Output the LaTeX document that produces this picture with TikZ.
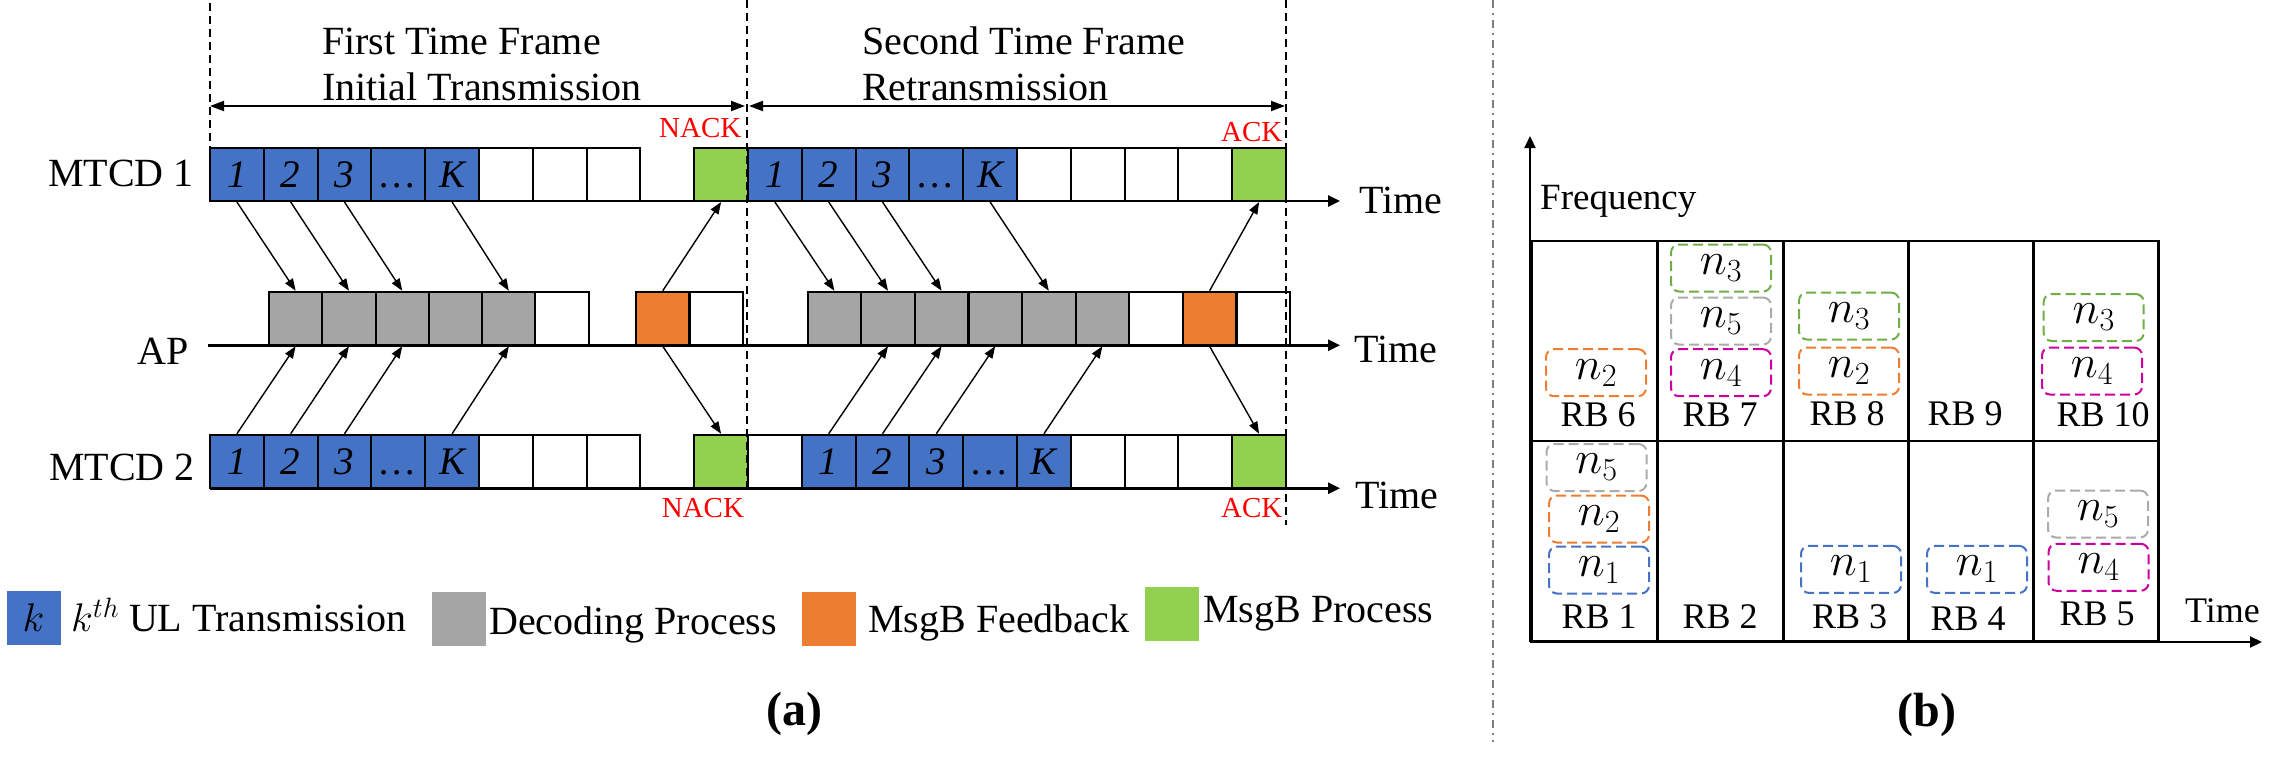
\RequirePackage{fix-cm}
\documentclass[tikz,border=0pt]{standalone}
\usepackage{fontspec}
\setmainfont{Liberation Serif}
\usetikzlibrary{arrows.meta}
\definecolor{cblue}{HTML}{4472C4}
\definecolor{cgray}{HTML}{A5A5A5}
\definecolor{corange}{HTML}{ED7D31}
\definecolor{cgreen}{HTML}{92D050}
\definecolor{dgreen}{HTML}{70AD47}
\definecolor{dgray}{HTML}{ABABAB}
\definecolor{dmag}{RGB}{204,0,160}
\newcommand\fsz[1]{\fontsize{#1}{#1}\selectfont}
\begin{document}
\begin{tikzpicture}[x=1pt,y=-1pt,
  cell/.style={draw, line width=2pt, minimum width=53.8pt, minimum height=53.5pt, inner sep=0pt, font=\fsz{39}\itshape, text height=26pt, text depth=0pt},
  arr/.style={-{Triangle[length=12pt,width=9pt]}, line width=1.4pt},
  axisarr/.style={-{Triangle[length=12pt,width=11pt]}, line width=2.5pt},
  framearr/.style={{Triangle[length=14pt,width=10pt]}-{Triangle[length=14pt,width=10pt]}, line width=2pt},
  vdash/.style={line width=1.5pt, dash pattern=on 8pt off 5pt},
  lbl/.style={font=\fsz{40}, inner sep=0pt},
  ack/.style={font=\fsz{29}, text=red, inner sep=0pt},
  rb/.style={draw, line width=2.5pt, minimum width=125.3pt, minimum height=200pt, inner sep=0pt},
  rbl/.style={font=\fsz{36}, inner sep=0pt},
  nbox/.style={draw, line width=2pt, rounded corners=8pt, dash pattern=on 10pt off 5pt, minimum width=100pt, minimum height=47pt, inner sep=0pt, font=\fsz{46}},
  leg/.style={minimum width=54pt, minimum height=54pt, inner sep=0pt},
  baxis/.style={-{Triangle[length=12pt,width=11pt]}, line width=2pt},
  sepline/.style={line width=2pt, draw=gray, dash pattern=on 8pt off 5pt on 2pt off 5pt}
]
\useasboundingbox (0,0) rectangle (2285,768);

% ---------- part (a): time axes ----------
\coordinate (r1s) at (210,201);  \coordinate (r1e) at (1340,201);
\coordinate (r2s) at (208,345.25); \coordinate (r2e) at (1340,345.25);
\coordinate (r3s) at (210,488.25); \coordinate (r3e) at (1340,488.25);
\draw[axisarr] (r1s) -- (r1e);
\draw[axisarr] (r2s) -- (r2e);
\draw[axisarr] (r3s) -- (r3e);

% MTCD 1 row
\foreach \i/\f/\t in {0/cblue/1,1/cblue/2,2/cblue/3,3/cblue/\ldots,4/cblue/K,5/white/,6/white/,7/white/,9/cgreen/,10/cblue/1,11/cblue/2,12/cblue/3,13/cblue/\ldots,14/cblue/K,15/white/,16/white/,17/white/,18/white/,19/cgreen/}{
  \pgfmathsetmacro\xc{236.9+53.8*\i}
  \node[cell,fill=\f] (m1c\i) at (\xc,174.25) {\t};
}
% MTCD 2 row
\foreach \i/\f/\t in {0/cblue/1,1/cblue/2,2/cblue/3,3/cblue/\ldots,4/cblue/K,5/white/,6/white/,7/white/,9/cgreen/,10/white/,11/cblue/1,12/cblue/2,13/cblue/3,14/cblue/\ldots,15/cblue/K,16/white/,17/white/,18/white/,19/cgreen/}{
  \pgfmathsetmacro\xc{236.9+53.8*\i}
  \node[cell,fill=\f] (m2c\i) at (\xc,461.5) {\t};
}
% AP row
\foreach \n/\x/\f in {a0/295.65/cgray,a1/348.95/cgray,a2/402.25/cgray,a3/455.55/cgray,a4/508.85/cgray,a5/562.15/white,ao/662.75/corange,a6/716.25/white,b0/834.4/cgray,b1/888/cgray,b2/941.6/cgray,b3/995.2/cgray,b4/1048.8/cgray,b5/1102.4/cgray,b6/1156/white,bo/1209.6/corange,b7/1263.2/white}{
  \node[cell,minimum width=53.4pt,fill=\f] (\n) at (\x,318.5) {};
}

% arrows
\foreach \s/\d in {m1c0/a0,m1c1/a1,m1c2/a2,m1c4/a4,m1c10/b0,m1c11/b1,m1c12/b2,m1c14/b4}{
  \draw[arr] (\s.south) -- (\d.north);
}
\foreach \s/\d in {m2c0/a0,m2c1/a1,m2c2/a2,m2c4/a4,m2c11/b1,m2c12/b2,m2c13/b3,m2c15/b5}{
  \draw[arr] (\s.north) -- (\d.south);
}
\draw[arr] (ao.north) -- (m1c9.south);
\draw[arr] (ao.south) -- (m2c9.north);
\draw[arr] (bo.north) -- (m1c19.south);
\draw[arr] (bo.south) -- (m2c19.north);

% frame dashed lines
\coordinate (d1t) at (210,3);    \coordinate (d1b) at (210,147);
\coordinate (d2t) at (747,0);    \coordinate (d2b) at (747,490);
\coordinate (d3t) at (1286,0);   \coordinate (d3b) at (1286,525);
\draw[vdash] (d1t) -- (d1b);
\draw[vdash] (d2t) -- (d2b);
\draw[vdash] (d3t) -- (d3b);

% frame arrows
\coordinate (fl) at (210,106); \coordinate (fm1) at (745,106);
\coordinate (fm2) at (749,106); \coordinate (fr) at (1285,106);
\draw[framearr] (fl) -- (fm1);
\draw[framearr] (fm2) -- (fr);

\node[lbl, anchor=base west] (f1a) at (322,55) {First Time Frame};
\node[lbl, anchor=base west] (f1b) at (322,100) {Initial Transmission};
\node[lbl, anchor=base west] (f2a) at (862,55) {Second Time Frame};
\node[lbl, anchor=base west] (f2b) at (862,100) {Retransmission};

\node[lbl, anchor=base east] (lm1) at (194,186.7) {MTCD 1};
\node[lbl, anchor=base east] (lap) at (189,364) {AP};
\node[lbl, anchor=base east] (lm2) at (195,480) {MTCD 2};

\node[ack, anchor=base west] (nack1) at (659,137) {NACK};
\node[ack, anchor=base west] (ack1) at (1221,141) {ACK};
\node[ack, anchor=base west] (nack2) at (661.6,517) {NACK};
\node[ack, anchor=base west] (ack2) at (1221,517) {ACK};

\node[lbl, anchor=base west] (tm1) at (1359,213) {Time};
\node[lbl, anchor=base west] (tap) at (1354,362) {Time};
\node[lbl, anchor=base west] (tm2) at (1355,508) {Time};

% legend
\node[leg, fill=cblue, font=\fsz{40}] (lk) at (33.5,618) {$k$};
\node[leg, fill=cgray] (ld) at (459,619) {};
\node[leg, fill=corange] (lo) at (828.5,619) {};
\node[leg, fill=cgreen] (lg) at (1172,614) {};
\node[lbl, anchor=base west] (lkt) at (71,631.7) {$k^{th}$ UL Transmission};
\node[lbl, anchor=base west] (ldt) at (489,634) {Decoding Process};
\node[lbl, anchor=base west] (lot) at (868,632) {MsgB Feedback};
\node[lbl, anchor=base west] (lgt) at (1203,622) {MsgB Process};

\node[font=\fsz{48}\bfseries, anchor=base, inner sep=0pt] (capa) at (794,725) {(a)};

% separator
\coordinate (s1) at (1493,0); \coordinate (s2) at (1493,742);
\draw[sepline] (s1) -- (s2);

% ---------- part (b) ----------
\coordinate (O) at (1530,642);
\coordinate (fy) at (1530,136);
\coordinate (tx) at (2262,642);

\foreach \n/\x/\y in {rb6/1594.3/341,rb7/1720.1/341,rb8/1846/341,rb9/1971.2/341,rb10/2096/341,rb1/1594.3/541,rb2/1720.1/541,rb3/1846/541,rb4/1971.2/541,rb5/2096/541}{
  \node[rb] (\n) at (\x,\y) {};
}
\draw[baxis] (O) -- (fy);
\draw[baxis] (O) -- (tx);

\node[rbl, anchor=base] (rl6) at (1598,426.8) {RB 6};
\node[rbl, anchor=base] (rl7) at (1720,426.8) {RB 7};
\node[rbl, anchor=base] (rl8) at (1847,425) {RB 8};
\node[rbl, anchor=base] (rl9) at (1965,425) {RB 9};
\node[rbl, anchor=base] (rl10) at (2103,426.8) {RB 10};
\node[rbl, anchor=base] (rl1) at (1599,628) {RB 1};
\node[rbl, anchor=base] (rl2) at (1720,628.6) {RB 2};
\node[rbl, anchor=base] (rl3) at (1849.5,628.6) {RB 3};
\node[rbl, anchor=base] (rl4) at (1968,630) {RB 4};
\node[rbl, anchor=base] (rl5) at (2097,625.7) {RB 5};

\node[nbox, draw=corange] (n6a) at (1596,372.7) {$n_2$};
\node[nbox, draw=dgreen] (n7a) at (1721,268) {$n_3$};
\node[nbox, draw=dgray] (n7b) at (1721,321) {$n_5$};
\node[nbox, draw=dmag] (n7c) at (1721,372.7) {$n_4$};
\node[nbox, draw=dgreen] (n8a) at (1849,316) {$n_3$};
\node[nbox, draw=corange] (n8b) at (1849,371) {$n_2$};
\node[nbox, draw=dgreen] (n10a) at (2093.7,317.5) {$n_3$};
\node[nbox, draw=dmag] (n10b) at (2092,371) {$n_4$};
\node[nbox, draw=dgray] (n1a) at (1596.5,467.5) {$n_5$};
\node[nbox, draw=corange] (n1b) at (1599,519) {$n_2$};
\node[nbox, draw=cblue] (n1c) at (1599,570) {$n_1$};
\node[nbox, draw=cblue] (n3a) at (1851,569.4) {$n_1$};
\node[nbox, draw=cblue] (n4a) at (1977,569.4) {$n_1$};
\node[nbox, draw=dgray] (n5a) at (2098,514) {$n_5$};
\node[nbox, draw=dmag] (n5b) at (2098.6,567.3) {$n_4$};

\node[font=\fsz{37}, anchor=base west, inner sep=0pt] (freq) at (1540,209) {Frequency};
\node[font=\fsz{36}, anchor=base west, inner sep=0pt] (tb) at (2185,622) {Time};

\node[font=\fsz{48}\bfseries, anchor=base, inner sep=0pt] (capb) at (1927,726) {(b)};
\end{tikzpicture}
\end{document}
